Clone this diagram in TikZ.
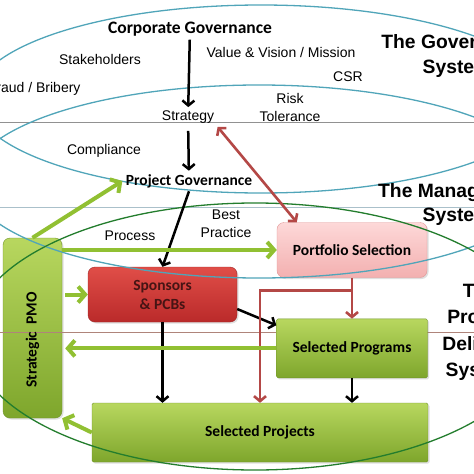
\documentclass[tikz,border=0pt]{standalone}
\usepackage{fontspec}
\setmainfont{Liberation Sans}
\newfontfamily\boxfont{Carlito}
\usetikzlibrary{arrows.meta}
\usetikzlibrary{positioning}
\usetikzlibrary{shadows}

\definecolor{ringblue}{RGB}{80,165,185}
\definecolor{ringgreen}{RGB}{35,125,45}
\definecolor{feedgreen}{RGB}{145,192,50}
\definecolor{boxtop}{RGB}{184,215,95}
\definecolor{boxbot}{RGB}{126,166,44}
\definecolor{boxedge}{RGB}{112,148,40}
\definecolor{sponsortop}{RGB}{224,78,72}
\definecolor{sponsorbot}{RGB}{186,42,42}
\definecolor{sponsoredge}{RGB}{160,40,40}
\definecolor{sponsortext}{RGB}{70,20,20}
\definecolor{pinktop}{RGB}{253,216,216}
\definecolor{pinkbot}{RGB}{243,176,176}
\definecolor{pinkedge}{RGB}{225,150,150}
\definecolor{rustred}{RGB}{180,72,70}
\definecolor{divgray}{RGB}{145,145,145}
\definecolor{divblue}{RGB}{170,192,202}
\definecolor{divbrown}{RGB}{175,132,122}

\tikzstyle{note}=[font=\fontsize{14}{18}\selectfont, align=center]
\tikzstyle{system}=[font=\fontsize{19.3}{25}\selectfont\bfseries, align=center]
\tikzstyle{head}=[font=\boxfont\fontsize{15.5}{19}\selectfont\bfseries, align=center]
\tikzstyle{bighead}=[font=\boxfont\fontsize{17.5}{21}\selectfont\bfseries]
\tikzstyle{shade}=[drop shadow={opacity=0.25, shadow xshift=1.5pt, shadow yshift=-1.5pt}]
\tikzstyle{greenbox}=[rectangle, draw=boxedge, top color=boxtop, bottom color=boxbot, rounded corners=1.5pt, shade, head]
\tikzstyle{redbox}=[rectangle, draw=sponsoredge, top color=sponsortop, bottom color=sponsorbot, rounded corners=7pt, shade, head, text=sponsortext, minimum width=149pt, minimum height=55pt]
\tikzstyle{pinkbox}=[rectangle, draw=pinkedge, top color=pinktop, bottom color=pinkbot, rounded corners=7pt, shade, head, minimum width=150pt, minimum height=55pt]
\tikzstyle{ring}=[draw=ringblue, line width=1.3pt]
\tikzstyle{divider}=[draw=divgray, line width=0.8pt]
\tikzstyle{flow}=[->, line width=2.5pt, black]
\tikzstyle{feed}=[-{Straight Barb[length=7pt, width=16pt]}, line width=4pt, feedgreen]
\tikzstyle{redflow}=[->, line width=2.6pt, draw=rustred]

\begin{document}
\begin{tikzpicture}[>={Straight Barb[length=5pt, width=12pt]}, x=1pt, y=-1pt]
    \useasboundingbox (0,0) rectangle (474,474);
    \clip (0,0) rectangle (474,474);
    \fill[white] (0,0) rectangle (474,474);

    % dividers
    \draw[divider] (0,122) -- (474,122);
    \draw[divider, draw=divblue] (0,207) -- (474,207);

    % boxes
    \node[greenbox, rounded corners=7pt, minimum width=59pt, minimum height=180pt] (pmo) at (32.5,328) {};
    \draw[divider, draw=divbrown] (0,332) -- (474,332);
    \node[head, rotate=90] (pmotext) at ([yshift=-12pt]pmo.center) {Strategic\ \ PMO};
    \node[redbox] (sponsors) at (162.5,294.5) {Sponsors\\\& PCBs};
    \node[pinkbox] (portfolio) at (352,250) {Portfolio Selection};
    \node[greenbox, minimum width=151pt, minimum height=59pt, below=41pt of portfolio] (programs) {Selected Programs};
    \node[greenbox, minimum width=336pt, minimum height=59pt] (projects) at (260,432.5) {Selected Projects};

    % rings
    \draw[ring] (261,99) ellipse [x radius=287, y radius=94];
    \draw[ring] (259,181.5) ellipse [x radius=289, y radius=96.5];
    \draw[ring, draw=ringgreen] (255,336.5) ellipse [x radius=284, y radius=133.5];

    % texts
    \node[bighead] (corp) at (190,29) {Corporate Governance};
    \node[note] (strat) at (188,117) {Strategy};
    \node[head] (projgov) at (189,181) {Project Governance};
    \node[note] (stake) at (100,59) {Stakeholders};
    \node[note] (vision) at (281,52) {Value \& Vision / Mission};
    \node[note] (csr) at (348,77) {CSR};
    \node[note, anchor=east] (fraud) at (84,89) {Fraud / Bribery};
    \node[note] (risk) at (290,107) {Risk\\Tolerance};
    \node[note] (comply) at (104,151) {Compliance};
    \node[note] (process) at (130,236) {Process};
    \node[note] (practice) at (226,224) {Best\\Practice};
    \node[system] (govsys) at (457,56) {The Governance\\System};
    \node[system, font=\fontsize{19.3}{24}\selectfont\bfseries] (mgmtsys) at (457,205) {The Management\\System};
    \node[system, font=\fontsize{19.3}{26.5}\selectfont\bfseries] (delsys) at (480,332) {The\\Project\\Delivery\\System};

    % arrows
    \draw[flow] (corp) -- (strat);
    \draw[flow, shorten <=4pt] (strat) -- (projgov);
    \draw[flow] (projgov.south) -- (sponsors.north);
    \draw[flow] (sponsors.-11) -- (programs.163);
    \draw[flow] (sponsors.south) -- (sponsors.south |- projects.north);
    \draw[flow] (programs.south) -- (programs.south |- projects.north);

    \draw[redflow, <->] (strat.south east) -- ([xshift=20pt]portfolio.north west);
    \draw[redflow] (portfolio) -- (programs);
    \coordinate (fork) at ([yshift=-13pt]portfolio.south);
    \draw[redflow] (fork) -| (projects.north);

    \draw[feed] (pmo.north) -- (projgov.west);
    \draw[feed] (pmo.east |- portfolio) -- (portfolio);
    \draw[feed, shorten <=3pt] (pmo.east |- sponsors) -- (sponsors);
    \draw[feed, shorten >=3pt] (programs) -- (programs -| pmo.east);
    \draw[feed] (projects.west) -- (pmo.south east);
\end{tikzpicture}
\end{document}
